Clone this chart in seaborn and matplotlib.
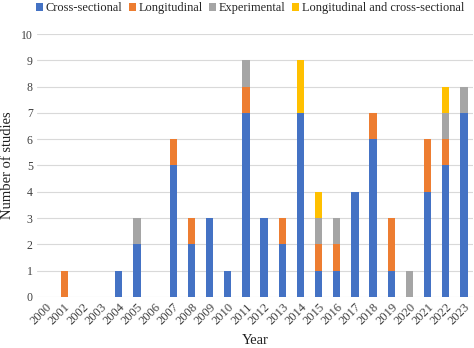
import matplotlib
matplotlib.use("Agg")
import matplotlib.pyplot as plt
import seaborn as sns
import numpy as np
import pandas as pd
from matplotlib.patches import Patch

years = [str(y) for y in range(2000, 2024)]
cross_sectional = [0, 0, 0, 0, 1, 2, 0, 5, 2, 3, 1, 7, 3, 2, 7, 1, 1, 4, 6, 1, 0, 4, 5, 7]
longitudinal    = [0, 1, 0, 0, 0, 0, 0, 1, 1, 0, 0, 1, 0, 1, 0, 1, 1, 0, 1, 2, 0, 2, 1, 0]
experimental    = [0, 0, 0, 0, 0, 1, 0, 0, 0, 0, 0, 1, 0, 0, 0, 1, 1, 0, 0, 0, 1, 0, 1, 1]
long_and_cross  = [0, 0, 0, 0, 0, 0, 0, 0, 0, 0, 0, 0, 0, 0, 2, 1, 0, 0, 0, 0, 0, 0, 1, 0]

series_names = ["Cross-sectional", "Longitudinal", "Experimental",
                "Longitudinal and cross-sectional"]
series_vals = [cross_sectional, longitudinal, experimental, long_and_cross]
colors = ["#4472C4", "#ED7D31", "#A5A5A5", "#FFC000"]

sns.set_theme(style="white")
plt.rcParams['font.family'] = ['Liberation Serif', 'DejaVu Serif']

fig = plt.figure(figsize=(4.74, 3.48), dpi=100)
ax = fig.add_axes([0.078, 0.147, 0.92, 0.755])

bottom = np.zeros(len(years))
for name, vals, c in zip(series_names, series_vals, colors):
    df = pd.DataFrame({"Year": years, "n": vals})
    sns.barplot(data=df, x="Year", y="n", bottom=bottom, color=c,
                width=0.4, errorbar=None, ax=ax, saturation=1, linewidth=0, zorder=3)
    bottom = bottom + np.array(vals)

ax.set_ylim(0, 10)
ax.set_yticks(range(0, 11))
ax.set_xlim(-0.5, len(years) - 0.5)
ax.yaxis.grid(True, color="#D9D9D9", linewidth=0.8, zorder=0)
ax.set_axisbelow(True)
for s in ax.spines.values():
    s.set_visible(False)
ax.tick_params(axis="both", length=0, labelsize=8.5, colors="#404040", pad=3)
plt.setp(ax.get_xticklabels(), rotation=45, ha="right", rotation_mode="anchor", fontsize=9)
ax.set_xlabel("Year", fontsize=10.5, color="#202020", labelpad=5)
ax.set_ylabel("Number of studies", fontsize=10.5, color="#202020", labelpad=5)

handles = [Patch(facecolor=c, edgecolor="none") for c in colors]
fig.legend(handles, series_names, loc="upper center", bbox_to_anchor=(0.527, 1.015),
           ncol=4, frameon=False, fontsize=8.9, handlelength=0.6, handleheight=0.6,
           handletextpad=0.2, columnspacing=0.5, borderaxespad=0.2)

fig.savefig("out.png", dpi=100)
